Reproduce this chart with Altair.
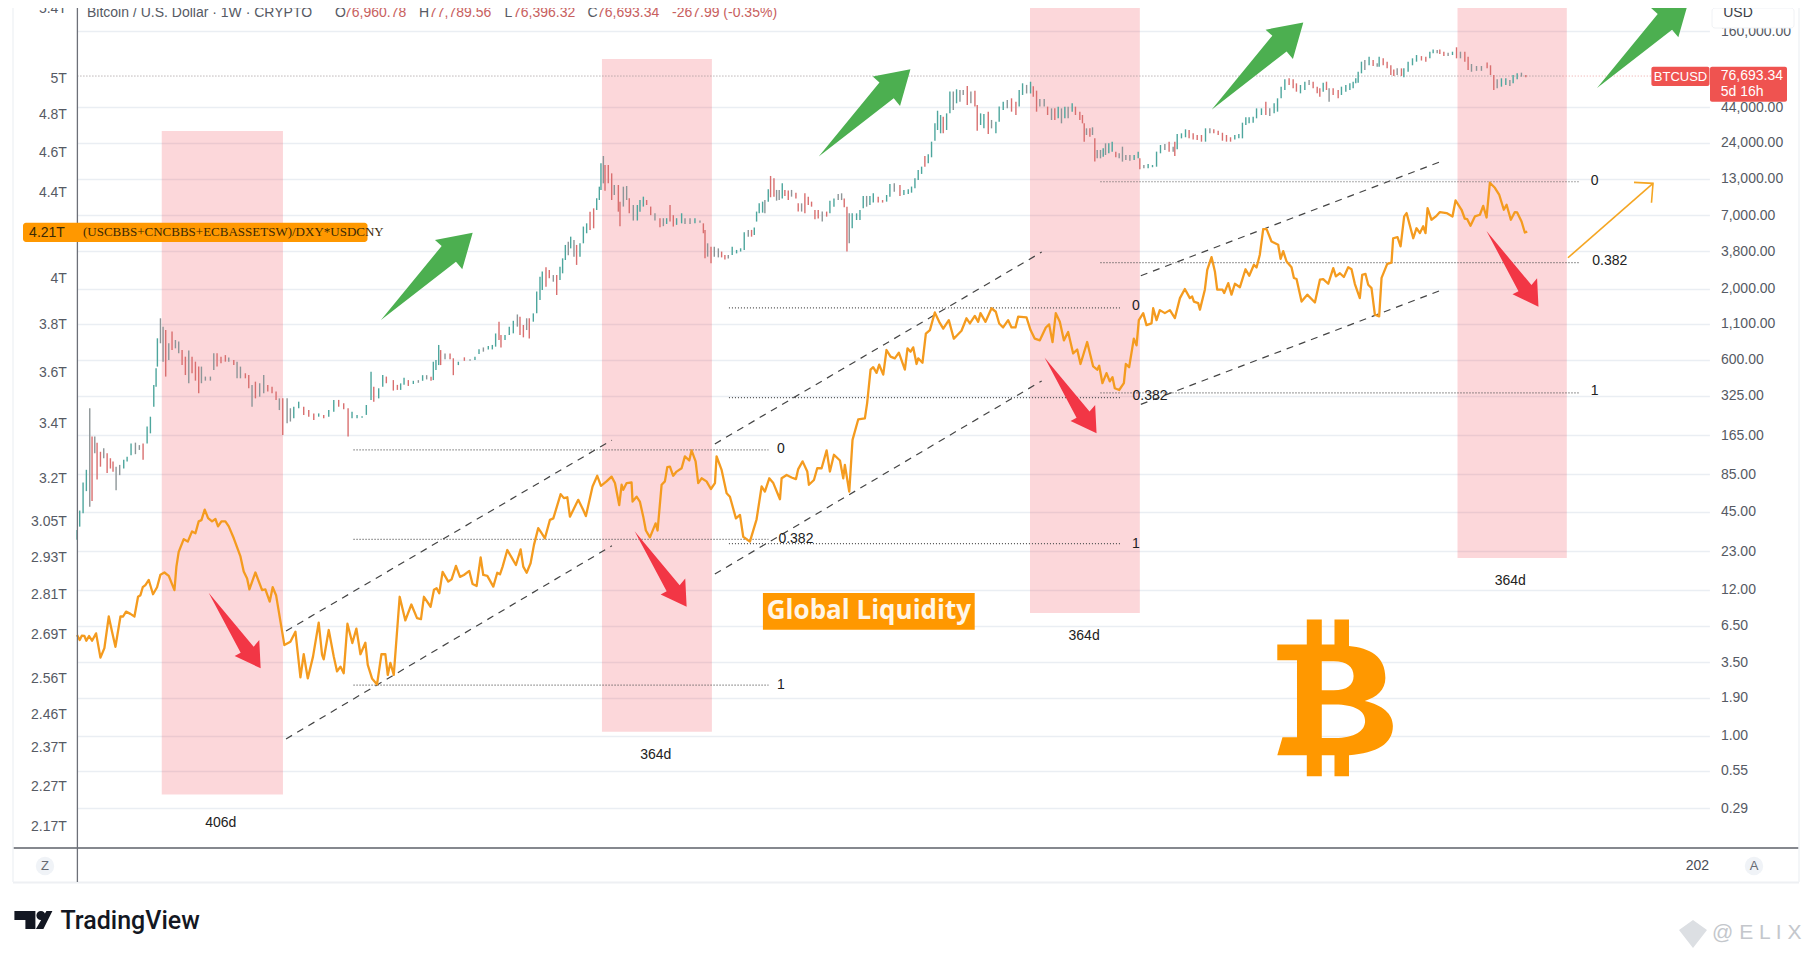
import altair as alt
import pandas as pd

# ---------- Global liquidity (year, trillions) ----------
liq_a = [(2013.135,2.687),(2013.159,2.672),(2013.178,2.685),(2013.202,2.684),(2013.220,2.670),(2013.245,2.684),(2013.272,2.670),(2013.309,2.692),(2013.349,2.620),(2013.385,2.648),(2013.425,2.743),(2013.455,2.697),(2013.486,2.652),(2013.532,2.743),(2013.556,2.743),(2013.583,2.758),(2013.623,2.751),(2013.660,2.743),(2013.693,2.804),(2013.715,2.809),(2013.736,2.834),(2013.760,2.841),(2013.791,2.857),(2013.830,2.812),(2013.867,2.834),(2013.898,2.874),(2013.934,2.881),(2013.974,2.870),(2014.026,2.825),(2014.044,2.900),(2014.065,2.948),(2014.111,2.990),(2014.148,2.982),(2014.187,3.016),(2014.218,3.010),(2014.248,3.050),(2014.273,3.054),(2014.303,3.090),(2014.334,3.061),(2014.370,3.050),(2014.401,3.058),(2014.425,3.033),(2014.456,3.050),(2014.492,3.050),(2014.523,3.033),(2014.569,2.993),(2014.630,2.933),(2014.660,2.884),(2014.691,2.862),(2014.712,2.827),(2014.767,2.881),(2014.828,2.825),(2014.858,2.827),(2014.898,2.789),(2014.925,2.834),(2014.956,2.809),(2015.032,2.657),(2015.087,2.667),(2015.133,2.697),(2015.179,2.563),(2015.209,2.630),(2015.246,2.560),(2015.294,2.623),(2015.346,2.724),(2015.377,2.628),(2015.392,2.615),(2015.438,2.702),(2015.484,2.623),(2015.514,2.580),(2015.545,2.594),(2015.575,2.575),(2015.609,2.721),(2015.654,2.663),(2015.691,2.706),(2015.728,2.630),(2015.773,2.664),(2015.795,2.599),(2015.834,2.560),(2015.880,2.543),(2015.920,2.630),(2015.956,2.630),(2015.978,2.570),(2016.002,2.605),(2016.033,2.570),(2016.087,2.804),(2016.139,2.731),(2016.194,2.780),(2016.246,2.738)]
liq_b = [(2016.282,2.735),(2016.309,2.804),(2016.370,2.773),(2016.401,2.826),(2016.425,2.831),(2016.449,2.815),(2016.480,2.883),(2016.532,2.852),(2016.562,2.859),(2016.602,2.902),(2016.639,2.867),(2016.675,2.873),(2016.724,2.886),(2016.754,2.844),(2016.791,2.838),(2016.828,2.930),(2016.852,2.873),(2016.889,2.870),(2016.944,2.836),(2016.980,2.880),(2017.005,2.875),(2017.029,2.900),(2017.072,2.954),(2017.111,2.930),(2017.151,2.905),(2017.194,2.956),(2017.218,2.900),(2017.249,2.880),(2017.285,2.911),(2017.316,2.971),(2017.355,3.027),(2017.377,3.015),(2017.416,2.993),(2017.462,3.055),(2017.493,3.060),(2017.560,3.144),(2017.590,3.130),(2017.621,3.133),(2017.645,3.066),(2017.721,3.124),(2017.767,3.089),(2017.791,3.068),(2017.852,3.171),(2017.895,3.209),(2017.929,3.173),(2017.980,3.189),(2018.026,3.206),(2018.057,3.183),(2018.096,3.106),(2018.118,3.177),(2018.133,3.159),(2018.164,3.183),(2018.209,3.185),(2018.218,3.118),(2018.255,3.135),(2018.285,3.118),(2018.316,3.066),(2018.340,3.019),(2018.377,2.996),(2018.429,3.043),(2018.447,3.019),(2018.484,3.177),(2018.514,3.189),(2018.536,3.240),(2018.560,3.242),(2018.590,3.209),(2018.621,3.224),(2018.667,3.236),(2018.697,3.279),(2018.737,3.264),(2018.758,3.301),(2018.795,3.261),(2018.819,3.183),(2018.850,3.200),(2018.895,3.189),(2018.935,3.162),(2018.972,3.183),(2018.987,3.279),(2019.033,3.230),(2019.079,3.147),(2019.109,3.135),(2019.164,3.060),(2019.201,3.072),(2019.231,2.998),(2019.292,2.982),(2019.353,3.057),(2019.399,3.171),(2019.429,3.153),(2019.469,3.200),(2019.506,3.183),(2019.567,3.126),(2019.582,3.200),(2019.628,3.212),(2019.673,3.203),(2019.713,3.197),(2019.734,3.233),(2019.774,3.261),(2019.817,3.224),(2019.832,3.177),(2019.878,3.194),(2019.908,3.236),(2019.948,3.236),(2019.994,3.301),(2020.024,3.224),(2020.061,3.285),(2020.116,3.264),(2020.146,3.200),(2020.161,3.248),(2020.201,3.153),(2020.231,3.340)]
liq_c = [(2020.283,3.417),(2020.344,3.421),(2020.365,3.481),(2020.396,3.612),(2020.420,3.622),(2020.451,3.599),(2020.475,3.632),(2020.512,3.592),(2020.542,3.692),(2020.579,3.665),(2020.618,3.658),(2020.655,3.681),(2020.710,3.612),(2020.734,3.699),(2020.762,3.685),(2020.786,3.703),(2020.817,3.635),(2020.832,3.658),(2020.871,3.640),(2020.902,3.760),(2020.939,3.775),(2020.984,3.850),(2021.024,3.810),(2021.061,3.781),(2021.112,3.817),(2021.158,3.739),(2021.228,3.772),(2021.274,3.825),(2021.305,3.803),(2021.350,3.835),(2021.381,3.810),(2021.402,3.847),(2021.448,3.810),(2021.503,3.868),(2021.542,3.853),(2021.573,3.803),(2021.609,3.786),(2021.655,3.817),(2021.686,3.786),(2021.722,3.786),(2021.747,3.832),(2021.823,3.829),(2021.860,3.775),(2021.899,3.739),(2021.945,3.732),(2022.000,3.786),(2022.030,3.799),(2022.061,3.725),(2022.091,3.847),(2022.128,3.810),(2022.165,3.732),(2022.204,3.767),(2022.250,3.678),(2022.287,3.694),(2022.317,3.635),(2022.378,3.725),(2022.433,3.625),(2022.470,3.612),(2022.488,3.628),(2022.518,3.558),(2022.555,3.598),(2022.585,3.565),(2022.610,3.582),(2022.631,3.538),(2022.671,3.531),(2022.714,3.558),(2022.732,3.635),(2022.762,3.622),(2022.805,3.739),(2022.830,3.711),(2022.851,3.817),(2022.891,3.847),(2022.921,3.796),(2022.967,3.803),(2022.982,3.868),(2023.013,3.817),(2023.043,3.860),(2023.089,3.847),(2023.135,3.860)]
liq_d = [(2023.181,3.826),(2023.227,3.912),(2023.272,3.952),(2023.318,3.912),(2023.339,3.919),(2023.355,3.897),(2023.394,3.890),(2023.410,3.862),(2023.455,3.949),(2023.477,4.037),(2023.516,4.095),(2023.547,4.030),(2023.568,3.949),(2023.617,3.949),(2023.632,3.934),(2023.669,3.978),(2023.699,3.927),(2023.730,3.975),(2023.776,3.960),(2023.827,4.040),(2023.861,4.011),(2023.904,4.060),(2023.928,4.048),(2023.958,4.106),(2023.989,4.225),(2024.020,4.225),(2024.065,4.167),(2024.126,4.152),(2024.148,4.087),(2024.172,4.122),(2024.203,4.075),(2024.248,4.049),(2024.270,4.001),(2024.294,3.996),(2024.340,3.897),(2024.392,3.927),(2024.462,3.893),(2024.508,3.993),(2024.538,3.996),(2024.584,3.975),(2024.630,4.045),(2024.654,4.008),(2024.691,4.022),(2024.727,4.005),(2024.767,4.049),(2024.797,4.040),(2024.828,3.974),(2024.873,3.912),(2024.895,4.015),(2024.925,4.019),(2024.950,3.971),(2024.980,3.956),(2025.011,3.840),(2025.050,3.833),(2025.072,4.001),(2025.124,4.064),(2025.163,4.070),(2025.178,4.182),(2025.218,4.187),(2025.246,4.144),(2025.279,4.285),(2025.301,4.301),(2025.362,4.182),(2025.392,4.229),(2025.423,4.206),(2025.453,4.238),(2025.474,4.206),(2025.493,4.325),(2025.529,4.269),(2025.569,4.285),(2025.606,4.306),(2025.667,4.301),(2025.721,4.285),(2025.749,4.362),(2025.804,4.317),(2025.834,4.274),(2025.856,4.272),(2025.886,4.241),(2025.926,4.285),(2025.972,4.293),(2026.002,4.336),(2026.033,4.280),(2026.063,4.449),(2026.109,4.424),(2026.148,4.391),(2026.191,4.317),(2026.216,4.341),(2026.255,4.269),(2026.292,4.306),(2026.313,4.304),(2026.353,4.261),(2026.383,4.209),(2026.405,4.213)]

# ---------- BTCUSD candles (year, high, low, direction) ----------
btc_a = [(2013.135,33,28,'u'),(2013.159,46,35,'u'),(2013.190,74,44,'u'),(2013.220,92,64,'u'),(2013.251,262,49,'g'),(2013.272,162,54,'r'),(2013.297,162,122,'g'),(2013.318,146,78,'r'),(2013.349,125,97,'r'),(2013.379,133,112,'g'),(2013.410,122,87,'r'),(2013.440,112,94,'r'),(2013.464,106,89,'r'),(2013.492,97,65,'g'),(2013.525,100,84,'g'),(2013.562,109,94,'u'),(2013.593,115,106,'u'),(2013.629,144,118,'u'),(2013.669,146,120,'g'),(2013.705,140,129,'g'),(2013.739,144,109,'r'),(2013.776,192,144,'u'),(2013.806,227,171,'u'),(2013.837,389,269,'u'),(2013.858,517,378,'u'),(2013.870,861,532,'u'),(2013.898,1210,791,'g'),(2013.922,1050,579,'g'),(2013.946,992,449,'r'),(2013.974,791,595,'g'),(2014.004,965,706,'r'),(2014.035,837,726,'g'),(2014.065,817,667,'g'),(2014.096,706,547,'r'),(2014.126,630,461,'r'),(2014.157,700,401,'g'),(2014.187,630,475,'r'),(2014.218,579,419,'r'),(2014.248,532,338,'r'),(2014.273,532,401,'g'),(2014.309,449,419,'g'),(2014.355,449,419,'g'),(2014.386,667,502,'g'),(2014.416,667,532,'r'),(2014.452,630,563,'r'),(2014.492,647,579,'r'),(2014.523,622,579,'g'),(2014.569,595,547,'r'),(2014.599,579,436,'g'),(2014.630,532,436,'g'),(2014.675,475,436,'r'),(2014.706,461,368,'r'),(2014.736,389,269,'g'),(2014.767,412,310,'r'),(2014.806,401,319,'g'),(2014.843,461,338,'g'),(2014.880,389,348,'r'),(2014.919,378,338,'r'),(2014.956,348,302,'r'),(2014.986,310,254,'g'),(2015.017,310,166,'r'),(2015.057,310,203,'g'),(2015.087,262,209,'g'),(2015.118,269,221,'u'),(2015.163,293,262,'u'),(2015.209,269,234,'r'),(2015.255,254,227,'r'),(2015.301,240,215,'r'),(2015.346,240,227,'u'),(2015.392,234,221,'r'),(2015.438,254,227,'u'),(2015.484,302,247,'u'),(2015.529,302,269,'r'),(2015.575,285,258,'r'),(2015.615,262,162,'r'),(2015.651,247,221,'u'),(2015.697,234,221,'u'),(2015.743,229,223,'u'),(2015.782,277,234,'u'),(2015.825,488,302,'u'),(2015.850,378,293,'r'),(2015.895,368,310,'u'),(2015.932,461,378,'u'),(2015.965,449,401,'r')]
btc_b = [(2016.029,423,354,'r'),(2016.066,390,358,'r'),(2016.096,400,358,'u'),(2016.127,441,390,'u'),(2016.166,423,383,'r'),(2016.212,418,396,'u'),(2016.258,423,404,'g'),(2016.297,460,418,'u'),(2016.334,460,428,'g'),(2016.374,448,418,'r'),(2016.395,578,423,'u'),(2016.419,596,502,'u'),(2016.444,769,546,'u'),(2016.462,705,546,'r'),(2016.502,666,602,'g'),(2016.548,666,602,'r'),(2016.578,613,460,'r'),(2016.624,578,546,'u'),(2016.679,623,587,'r'),(2016.731,602,587,'g'),(2016.776,630,596,'u'),(2016.813,716,658,'u'),(2016.853,737,686,'g'),(2016.898,757,713,'u'),(2016.935,769,713,'u'),(2016.965,935,747,'u'),(2016.996,1142,837,'r'),(2017.014,910,737,'r'),(2017.051,910,837,'u'),(2017.090,1050,910,'u'),(2017.127,1160,937,'u'),(2017.164,1292,1050,'g'),(2017.188,1244,910,'r'),(2017.219,1080,875,'r'),(2017.249,1210,991,'g'),(2017.273,1210,860,'r'),(2017.310,1316,1142,'u'),(2017.341,1910,1316,'u'),(2017.371,2457,1650,'u'),(2017.392,2680,1958,'u'),(2017.426,2880,2070,'r'),(2017.456,2752,2390,'r'),(2017.493,2525,2255,'g'),(2017.524,2525,1797,'r'),(2017.554,2910,2320,'u'),(2017.578,3355,2600,'u'),(2017.603,4215,3260,'u'),(2017.630,4450,3540,'g'),(2017.652,4851,3975,'u'),(2017.682,4585,3452,'g'),(2017.706,4215,3000,'r'),(2017.737,4331,3452,'u'),(2017.768,5760,4331,'u'),(2017.798,6085,5140,'u'),(2017.829,7420,5433,'r'),(2017.862,7850,5590,'r'),(2017.890,9310,7633,'u'),(2017.914,11350,9050,'u'),(2017.929,16880,10727,'u'),(2017.951,19130,12014,'g'),(2017.966,16400,10600,'r'),(2017.996,16400,12014,'r'),(2018.027,14240,9050,'r'),(2018.051,11680,9850,'g'),(2018.088,11680,7420,'r'),(2018.103,8790,5800,'r'),(2018.134,11350,8090,'g'),(2018.164,11480,9050,'g'),(2018.188,9310,7220,'r'),(2018.225,8310,6380,'g'),(2018.262,8310,6380,'u'),(2018.286,9050,7420,'u'),(2018.317,9577,8090,'u'),(2018.347,9050,8310,'r'),(2018.384,8090,6990,'r'),(2018.423,7220,6380,'g'),(2018.469,6640,5700,'r'),(2018.500,6640,5800,'g'),(2018.530,6640,6020,'u'),(2018.561,8310,6270,'r'),(2018.591,6990,5760,'r'),(2018.621,6640,5930,'u'),(2018.667,7220,6085,'u'),(2018.698,6640,6020,'g'),(2018.744,6640,6020,'g'),(2018.789,6640,6085,'u'),(2018.835,6380,6150,'g'),(2018.866,6085,5140,'r'),(2018.881,5433,3355,'r'),(2018.905,4331,3452,'g'),(2018.936,4090,3082,'r'),(2018.966,4090,3452,'g'),(2019.003,3975,3410,'g')]
btc_c = [(2019.033,3765,3410,'r'),(2019.063,3550,3290,'r'),(2019.094,3550,3350,'g'),(2019.130,4090,3550,'u'),(2019.170,3870,3650,'u'),(2019.207,3980,3765,'u'),(2019.240,5230,3870,'u'),(2019.277,5440,4850,'g'),(2019.307,5440,4850,'r'),(2019.332,5680,4990,'u'),(2019.353,7430,6270,'u'),(2019.377,8550,7210,'u'),(2019.408,8800,7300,'u'),(2019.429,9040,7210,'g'),(2019.460,10860,8800,'u'),(2019.481,13620,9480,'r'),(2019.512,13100,9580,'r'),(2019.536,10740,8950,'g'),(2019.560,10740,9040,'g'),(2019.588,12030,9300,'u'),(2019.612,10740,9700,'r'),(2019.643,10620,9040,'r'),(2019.673,10740,9580,'g'),(2019.713,10250,9300,'r'),(2019.734,8550,7430,'r'),(2019.765,8550,7430,'g'),(2019.795,10140,7210,'r'),(2019.826,9580,8300,'r'),(2019.856,8800,8080,'r'),(2019.887,7640,6510,'r'),(2019.917,7640,6600,'r'),(2019.954,7430,6270,'g'),(2019.994,7430,6820,'r'),(2020.024,8950,7210,'u'),(2020.061,9300,8080,'u'),(2020.100,10020,9040,'g'),(2020.131,10140,9040,'g'),(2020.155,9300,8000,'r'),(2020.180,8080,3765,'r'),(2020.201,7210,4330,'g'),(2020.228,7210,5590,'u'),(2020.268,7210,6440,'u'),(2020.299,7640,6440,'u'),(2020.329,9700,7860,'u'),(2020.360,9700,8080,'g'),(2020.390,9700,8300,'u'),(2020.421,10140,8660,'u'),(2020.466,9580,8660,'r'),(2020.506,9040,8660,'r'),(2020.543,9850,8800,'u'),(2020.573,11900,9580,'u'),(2020.613,12030,10430,'g'),(2020.665,11700,9700,'r'),(2020.701,10740,9850,'u'),(2020.741,10860,10020,'u'),(2020.771,11370,10250,'u'),(2020.802,13100,11060,'u'),(2020.832,15080,12730,'u'),(2020.863,15960,14100,'u'),(2020.893,19150,15960,'r'),(2020.924,19700,16890,'u'),(2020.954,24400,18710,'u'),(2020.985,33350,24800,'u'),(2021.009,41300,29770,'u'),(2021.037,38400,28130,'u'),(2021.061,37360,28130,'r'),(2021.092,39500,29770,'u'),(2021.122,57170,39500,'u'),(2021.153,57170,41840,'g'),(2021.183,59470,46870,'u'),(2021.214,58800,48200,'g'),(2021.244,58800,54000,'g'),(2021.281,62770,45550,'r'),(2021.314,57170,46870,'g'),(2021.351,58100,44300,'r'),(2021.372,45550,29430,'r'),(2021.403,39500,32400,'u'),(2021.433,39000,30600,'u'),(2021.473,40640,27800,'r'),(2021.503,35300,30600,'g'),(2021.543,34300,28130,'u'),(2021.573,44300,34300,'u'),(2021.610,48200,41840,'u'),(2021.647,49500,43000,'g'),(2021.686,51000,40640,'r'),(2021.726,48200,38400,'r'),(2021.756,58800,44300,'u'),(2021.787,65850,54000,'u'),(2021.824,64100,55400,'g'),(2021.860,67630,55400,'u'),(2021.885,62500,52490,'r'),(2021.915,58100,40640,'r'),(2021.945,50430,44300,'g'),(2021.985,50430,44300,'g'),(2022.016,44300,38400,'r')]
btc_d = [(2022.052,43000,35280,'g'),(2022.082,43000,35280,'r'),(2022.113,44250,36300,'u'),(2022.143,43000,33330,'g'),(2022.174,44250,36300,'u'),(2022.204,44250,36300,'g'),(2022.241,46830,40640,'u'),(2022.271,44250,38400,'r'),(2022.311,40640,35280,'r'),(2022.335,38400,33330,'r'),(2022.351,33330,24400,'r'),(2022.372,30620,27330,'g'),(2022.403,30620,26570,'r'),(2022.427,31150,27330,'g'),(2022.448,25820,17380,'r'),(2022.470,21190,18380,'g'),(2022.500,21190,18380,'g'),(2022.525,21790,18900,'u'),(2022.546,23720,19450,'g'),(2022.576,23720,20020,'u'),(2022.607,24400,20600,'u'),(2022.640,20600,18700,'r'),(2022.671,20020,18380,'g'),(2022.701,22410,17380,'g'),(2022.732,19450,17870,'g'),(2022.769,19450,17640,'g'),(2022.808,19450,17870,'u'),(2022.845,20600,18380,'u'),(2022.860,18380,15250,'r'),(2022.897,16400,15500,'g'),(2022.936,16700,15500,'u'),(2022.976,16400,15800,'u'),(2023.013,20600,15950,'u'),(2023.049,23050,20020,'u'),(2023.089,23450,21190,'g'),(2023.128,24400,20600,'r'),(2023.165,22410,20600,'g'),(2023.180,24400,19100,'r'),(2023.202,27800,21440,'u'),(2023.241,28120,25820,'u'),(2023.278,30100,26300,'u'),(2023.311,29760,25820,'r'),(2023.348,28120,25360,'r'),(2023.385,27330,25090,'r'),(2023.424,27330,24400,'r'),(2023.461,30620,24400,'u'),(2023.501,30620,28120,'g'),(2023.537,30100,28120,'r'),(2023.577,29400,27330,'r'),(2023.616,28400,24800,'r'),(2023.653,27330,24400,'r'),(2023.690,26300,24400,'r'),(2023.729,27330,25360,'u'),(2023.766,27800,25820,'u'),(2023.799,33700,25820,'u'),(2023.830,36900,32400,'u'),(2023.860,36900,33330,'u'),(2023.897,37330,33700,'u'),(2023.928,43000,36300,'u'),(2023.973,43000,38400,'u'),(2024.013,48190,38400,'r'),(2024.049,43000,37750,'g'),(2024.089,46830,39500,'u'),(2024.120,51000,40640,'u'),(2024.153,62180,51000,'u'),(2024.187,70400,58750,'u'),(2024.226,71700,64000,'r'),(2024.263,70400,60430,'r'),(2024.293,65800,57100,'r'),(2024.330,64000,55510,'u'),(2024.370,67700,58750,'u'),(2024.409,69640,64000,'g'),(2024.446,67700,60430,'r'),(2024.483,62180,55510,'r'),(2024.507,60430,52440,'r'),(2024.538,66500,57100,'u'),(2024.568,67700,58750,'r'),(2024.592,60430,48190,'g'),(2024.629,60430,54000,'r'),(2024.675,58750,51000,'r'),(2024.705,62180,54000,'u'),(2024.745,64000,57100,'u'),(2024.782,65800,58750,'u'),(2024.812,67700,60430,'u'),(2024.836,71700,65800,'u'),(2024.858,80150,66500,'u'),(2024.888,95130,78000,'u'),(2024.919,97860,82540,'g'),(2024.958,103600,89450,'u'),(2024.995,97860,88400,'r'),(2025.032,92470,87370,'g'),(2025.050,103600,87370,'u'),(2025.087,100700,89450,'r'),(2025.123,95130,84900,'r'),(2025.157,89450,75800,'r'),(2025.184,83400,74600,'r'),(2025.215,84900,75800,'g'),(2025.254,84900,74600,'r'),(2025.276,84900,72900,'u'),(2025.315,95130,80150,'u'),(2025.355,100700,89450,'u'),(2025.392,106500,95130,'u'),(2025.437,104600,97000,'r'),(2025.477,103600,95130,'r'),(2025.514,112700,100700,'u'),(2025.544,117200,109600,'u'),(2025.581,116000,109600,'g'),(2025.605,117200,108500,'r'),(2025.642,112700,104600,'r'),(2025.681,110700,104600,'g'),(2025.721,112700,106500,'u'),(2025.758,121500,100700,'r'),(2025.794,112700,100700,'g'),(2025.834,112700,95130,'r'),(2025.864,103600,82540,'r'),(2025.895,91400,80150,'g'),(2025.941,88400,81400,'g'),(2025.986,88400,81400,'g'),(2026.038,93600,84900,'r'),(2026.069,89450,75800,'r'),(2026.099,75800,58750,'r'),(2026.130,70400,60430,'g'),(2026.169,71700,62180,'u'),(2026.209,71700,64000,'u'),(2026.246,69640,62800,'g'),(2026.276,75800,65800,'u'),(2026.313,78000,70400,'u'),(2026.352,78900,73700,'g'),(2026.392,75800,72900,'r')]

# ---------- Axis ticks ----------
year_ticks = list(range(2014, 2028))
liq_ticks = [5.4, 5, 4.8, 4.6, 4.4, 4, 3.8, 3.6, 3.4, 3.2, 3.05, 2.93, 2.81, 2.69, 2.56, 2.46, 2.37, 2.27, 2.17]
btc_ticks = [160000, 44000, 24000, 13000, 7000, 3800, 2000, 1100, 600, 325, 165, 85, 45, 23, 12, 6.5, 3.5, 1.9, 1, 0.55, 0.29]

# ---------- Annotations ----------
band_x0 = [2013.910, 2017.938, 2021.855, 2025.767]
band_x1 = [2015.019, 2018.944, 2022.860, 2026.767]
band_top = [4.713, 5.107, 5.406, 5.406]
band_bot = [2.249, 2.412, 2.754, 2.928]
band_lbl = ['406d', '364d', '364d', '364d']
band_lbl_x = [2014.45, 2018.43, 2022.35, 2026.25]
band_lbl_y = [2.179, 2.350, 2.685, 2.853]

fib_x0 = [2015.665] * 3 + [2019.100] * 3 + [2022.500] * 3
fib_x1 = [2019.461] * 3 + [2022.686] * 3 + [2026.885] * 3
fib_y = [3.303, 2.989, 2.541, 3.870, 3.501, 2.975, 4.454, 4.070, 3.520]
fib_txt = ['0', '0.382', '1'] * 3
fib_txt_x = [2019.576, 2019.713, 2019.576, 2022.825, 2022.953, 2022.825, 2027.023, 2027.160, 2027.023]
fib_txt_y = [3.308, 2.992, 2.541, 3.877, 3.509, 2.975, 4.460, 4.076, 3.528]

chan_id = ['a', 'a', 'b', 'b', 'c', 'c', 'd', 'd', 'e', 'e', 'f', 'f']
chan_x = [2015.047, 2018.029, 2015.047, 2018.029, 2018.971, 2021.962, 2018.971, 2021.962, 2022.869, 2025.636, 2022.869, 2025.636]
chan_y = [2.699, 3.339, 2.393, 2.968, 3.325, 4.118, 2.876, 3.567, 4.011, 4.560, 3.475, 3.950]

up_x = [2016.755, 2020.761, 2024.356, 2027.883]
up_y = [4.208, 5.049, 5.320, 5.450]
down_x = [2014.815, 2018.713, 2022.464, 2026.508]
down_y = [2.589, 2.773, 3.365, 3.875]

thin_id = ['s', 's', 'h', 'h', 'h']
thin_ord = [0, 1, 0, 1, 2]
thin_x = [2026.778, 2027.556, 2027.382, 2027.556, 2027.542]
thin_y = [4.092, 4.446, 4.451, 4.446, 4.351]

UP_ARROW = "M-91.7,87.3L-31,13.3L-37.7,7.3L0,0L-10.4,36.6L-16.7,29Z"
DOWN_ARROW = "M-52,-75.6L-7,-21.6L-1.4,-28.3L0,0L-26,-12.3L-20,-15.5Z"
BTC_LOGO = ("M-57.5,-53.3L-28,-53.3L-28,-78.3L-13,-78.3L-13,-53.3L-0.3,-53.3L-0.3,-78.3L14.2,-78.3L14.2,-52"
            "C35,-50 50.6,-42 50.6,-20C50.6,-8 42,-1 30,3C48,7 58.1,16 58.1,28C58.1,46 42,55 14.2,57.3"
            "L14.2,78.3L-0.3,78.3L-0.3,57.3L-13,57.3L-13,78.3L-28,78.3L-28,57.3L-57.5,57.3L-52.3,39.3L-37.8,39.3L-37.8,-37.7L-57.5,-37.7Z"
            "M-13,-36.7L-13,-7.7L-1,-7.7C12,-7.7 18.8,-13 18.8,-22C18.8,-31 12,-36.7 -1,-36.7Z"
            "M-13,6.7L-13,40L0,40C20,40 30.3,33 30.3,23C30.3,13 20,6.7 0,6.7Z")
TV_LOGO = "M0,0L21,0L21,18L11,18L11,9L0,9ZM22,4.5A4.5,4.5 0 1 1 31,4.5A4.5,4.5 0 1 1 22,4.5ZM32,0L38,0L29,18L21.5,18Z"
ELIX_ICON = "M0,-14L14,-4L0,14L-14,-4ZM0,-6L6,-1L0,6L-6,-1Z"

# ---------- Geometry of the picture ----------
X0, Y0 = 77.4, 8.0
W, H = 1632, 840
FONT = "Liberation Sans"
GREY = "#565a64"

xs = alt.Scale(domain=[2013.138, 2028.072], nice=False, zero=False)
ls = alt.Scale(type="log", domain=[2.119, 5.406], nice=False, zero=False)
bs = alt.Scale(type="log", domain=[0.148, 237000], nice=False, zero=False)


def X(f="x"):
    return alt.X(f + ":Q", scale=xs, axis=None)


def YL(f="y"):
    return alt.Y(f + ":Q", scale=ls, axis=None)


def YB(f="y"):
    return alt.Y(f + ":Q", scale=bs, axis=None)


one = pd.DataFrame({"a": [0]})


def px(x):
    return alt.value(x - X0)


def py(y):
    return alt.value(y - Y0)


def label(t, x, y, color=GREY, size=14, align="left", weight="normal", font=FONT):
    return alt.Chart(pd.DataFrame({"t": [t]})).mark_text(
        align=align, baseline="middle", color=color, fontSize=size, fontWeight=weight, font=font
    ).encode(x=px(x), y=py(y), text="t:N")


def box(x0, x1, y0, y1, color, radius=0, stroke=None):
    kw = {"cornerRadius": radius} if radius else {}
    if stroke:
        kw.update(stroke=stroke, strokeWidth=1)
    return alt.Chart(one).mark_rect(color=color, **kw).encode(x=px(x0), x2=px(x1), y=py(y0), y2=py(y1))


def hline(x0, x1, y, color, width=1):
    return alt.Chart(one).mark_rule(color=color, strokeWidth=width).encode(x=px(x0), x2=px(x1), y=py(y))


def vline(x, y0, y1, color, width=1):
    return alt.Chart(one).mark_rule(color=color, strokeWidth=width).encode(x=px(x), y=py(y0), y2=py(y1))


# ---------- Axes (carried by invisible points) ----------
axis_x = alt.Axis(values=year_ticks, format="d", grid=True, gridColor="#eef1f5", gridWidth=1.2, domain=False, ticks=False,
                  labelFont=FONT, labelFontSize=14, labelColor="#4a4e58", labelPadding=10, title=None, labelOverlap=False,
                  labelFlush=False)
axis_l = alt.Axis(values=liq_ticks, orient="left", labelExpr="datum.value + 'T'", grid=False, domain=False, ticks=False,
                  labelFont=FONT, labelFontSize=14, labelColor=GREY, labelPadding=11, title=None, labelOverlap=False,
                  labelBound=False, labelFlush=False)
axis_r = alt.Axis(values=btc_ticks, orient="right", format=",.2f", grid=True, gridColor="#eaeef3", gridWidth=1.4, domain=False,
                  ticks=False, labelFont=FONT, labelFontSize=14, labelColor=GREY, labelPadding=11, title=None,
                  labelOverlap=False, labelBound=False, labelFlush=False)
df_ax = pd.DataFrame({"x": [2020.0], "y": [3.0], "b": [100.0]})
ax_left = alt.Chart(df_ax).mark_point(opacity=0).encode(
    x=alt.X("x:Q", scale=xs, axis=axis_x), y=alt.Y("y:Q", scale=ls, axis=axis_l))
ax_right = alt.Chart(df_ax).mark_point(opacity=0).encode(x=X(), y=alt.Y("b:Q", scale=bs, axis=axis_r))

# ---------- Bands ----------
df_band = pd.DataFrame({"x0": band_x0, "x1": band_x1, "top": band_top, "bot": band_bot})
bands = alt.Chart(df_band).mark_rect(color="#f23645", opacity=0.2).encode(
    x=X("x0"), x2="x1:Q", y=YL("top"), y2="bot:Q")
df_band_lbl = pd.DataFrame({"x": band_lbl_x, "y": band_lbl_y, "t": band_lbl})
band_text = alt.Chart(df_band_lbl).mark_text(font=FONT, fontSize=14, color="#222222").encode(x=X(), y=YL(), text="t:N")

# ---------- Last price line ----------
price_line = alt.Chart(pd.DataFrame({"x0": [2013.138], "x1": [2026.73], "y": [74500]})).mark_rule(
    color="#9a8f92", strokeDash=[1, 2], strokeWidth=1).encode(x=X("x0"), x2="x1:Q", y=YB())
price_line2 = alt.Chart(pd.DataFrame({"x0": [2026.73], "x1": [2027.78], "y": [74500]})).mark_rule(
    color="#e9a3a3", strokeDash=[1, 2], strokeWidth=1).encode(x=X("x0"), x2="x1:Q", y=YB())

# ---------- Fib levels, channels ----------
df_fib = pd.DataFrame({"x0": fib_x0, "x1": fib_x1, "y": fib_y})
fibs = alt.Chart(df_fib).mark_rule(color="#555555", strokeDash=[1, 2], strokeWidth=1.2).encode(x=X("x0"), x2="x1:Q", y=YL())
df_fib_t = pd.DataFrame({"x": fib_txt_x, "y": fib_txt_y, "t": fib_txt})
fib_text = alt.Chart(df_fib_t).mark_text(font=FONT, fontSize=14, color="#222222").encode(x=X(), y=YL(), text="t:N")
df_chan = pd.DataFrame({"x": chan_x, "y": chan_y, "id": chan_id})
channels = alt.Chart(df_chan).mark_line(color="#444444", strokeDash=[7, 6], strokeWidth=1.2).encode(
    x=X(), y=YL(), detail="id:N")

# ---------- Candles & liquidity ----------
df_btc = pd.DataFrame(btc_a + btc_b + btc_c + btc_d, columns=["x", "hi", "lo", "d"])
candles = alt.Chart(df_btc).mark_rule(strokeWidth=1.4).encode(
    x=X(), y=YB("hi"), y2="lo:Q",
    color=alt.Color("d:N", scale=alt.Scale(domain=["u", "r", "g"], range=["#4da69d", "#d96f6f", "#8d9698"]), legend=None))
df_liq = pd.DataFrame(liq_a + liq_b + liq_c + liq_d, columns=["x", "y"])
liq_line = alt.Chart(df_liq).mark_line(color="#f49b1f", strokeWidth=2.3, strokeJoin="round").encode(x=X(), y=YL())

# ---------- Arrows & logos ----------
df_up = pd.DataFrame({"x": up_x, "y": up_y})
df_down = pd.DataFrame({"x": down_x, "y": down_y})
up_arrows = alt.Chart(df_up).mark_point(shape=UP_ARROW, size=4, filled=True, color="#4caf50", opacity=1, strokeWidth=0).encode(
    x=X(), y=YL())
down_arrows = alt.Chart(df_down).mark_point(shape=DOWN_ARROW, size=4, filled=True, color="#f23645", opacity=1, strokeWidth=0).encode(
    x=X(), y=YL())
df_thin = pd.DataFrame({"x": thin_x, "y": thin_y, "id": thin_id, "o": thin_ord})
thin_arrow = alt.Chart(df_thin).mark_line(color="#f5a623", strokeWidth=1.6).encode(
    x=X(), y=YL(), detail="id:N", order="o:Q")
btc_logo = alt.Chart(pd.DataFrame({"x": [2024.644], "y": [2.505]})).mark_point(
    shape=BTC_LOGO, size=4, filled=True, color="#ff9800", opacity=1, strokeWidth=0).encode(x=X(), y=YL())

gl_rect = alt.Chart(pd.DataFrame({"x0": [2019.411], "x1": [2021.349], "y0": [2.816], "y1": [2.703]})).mark_rect(
    color="#ff9800").encode(x=X("x0"), x2="x1:Q", y=YL("y0"), y2="y1:Q")
gl_text = alt.Chart(pd.DataFrame({"x": [2020.381], "y": [2.760], "t": ["Global Liquidity"]})).mark_text(
    font="Open Sans", fontSize=26, fontWeight="bold", color="#fff6e8").encode(x=X(), y=YL(), text="t:N")

# ---------- Interface parts ----------
chrome = [
    hline(13, 1799, 848, "#5d6068", 1.3),
    hline(13, 1799, 882.5, "#eef0f3", 2),
    vline(13, Y0, 882, "#f1f3f6", 1.5),
    vline(1799, Y0, 882, "#f1f3f6", 1.5),
    vline(77.4, Y0, 882, "#6d7078", 1.3),
    box(23, 367.5, 222.7, 242, "#ff9800", 3),
    label("4.21T", 47, 232.5, "#3b2a06", 14, "center"),
    label("(USCBBS+CNCBBS+ECBASSETSW)/DXY*USDCNY", 83, 232, "#3b2a06", 13, font="Liberation Sans Narrow"),
    label("Bitcoin / U.S. Dollar · 1W · CRYPTO", 87, 12.7, GREY, 14),
    label("O", 335, 12.7, GREY, 14),
    label("76,960.78", 344, 12.7, "#c8605e", 14),
    label("H", 419, 12.7, GREY, 14),
    label("77,789.56", 429, 12.7, "#c8605e", 14),
    label("L", 504.5, 12.7, GREY, 14),
    label("76,396.32", 513, 12.7, "#c8605e", 14),
    label("C", 587.5, 12.7, GREY, 14),
    label("76,693.34", 597, 12.7, "#c8605e", 14),
    label("-267.99 (-0.35%)", 672, 12.7, "#c8605e", 14),
    box(1712, 1794, Y0, 28, "#ffffff", 3, "#f0f2f5"),
    label("USD", 1738, 13, "#3c3f47", 14, "center"),
    box(1651.4, 1709.5, 66.7, 86, "#ef5350", 2),
    label("BTCUSD", 1680.5, 76.5, "#ffffff", 13, "center"),
    box(1710, 1787, 66.7, 101.7, "#ef5350", 2),
    label("76,693.34", 1720.7, 75.5, "#ffffff", 14),
    label("5d 16h", 1720.7, 91.7, "#ffffff", 14),
    label("202", 1709, 865.5, "#4a4e58", 14, "right"),
    alt.Chart(one).mark_point(shape="circle", size=340, filled=True, color="#f0f3f7", opacity=1, strokeWidth=0).encode(x=px(45), y=py(866)),
    label("Z", 45, 866, "#666a72", 13, "center"),
    alt.Chart(one).mark_point(shape="circle", size=340, filled=True, color="#f0f3f7", opacity=1, strokeWidth=0).encode(x=px(1754), y=py(866)),
    label("A", 1754, 866, "#666a72", 13, "center"),
    alt.Chart(one).mark_point(shape=TV_LOGO, size=4, filled=True, color="#131722", opacity=1, strokeWidth=0).encode(x=px(14.4), y=py(911)),
    label("TradingView", 60.5, 921, "#131722", 25, weight=500, font="Roboto"),
    alt.Chart(one).mark_point(shape=ELIX_ICON, size=4, filled=True, color="#dcdfe3", opacity=1, strokeWidth=0).encode(x=px(1693), y=py(934)),
    label("@ E L I X", 1712, 933, "#c4c7cc", 21),
]

layers = [ax_left, ax_right, bands, price_line, price_line2, fibs, channels, candles, liq_line, thin_arrow,
          up_arrows, down_arrows, btc_logo, gl_rect, gl_text, band_text, fib_text] + chrome

chart = alt.layer(*layers).resolve_scale(y="independent").properties(
    width=W, height=H,
    padding={"left": X0 - 8, "top": 0, "right": 1796 - (X0 - 8) - W, "bottom": 100},
    autosize=alt.AutoSizeParams(type="none"),
    background="white",
).configure_view(strokeWidth=0)

chart.save("out.html", embed_options={"renderer": "svg", "actions": False})
